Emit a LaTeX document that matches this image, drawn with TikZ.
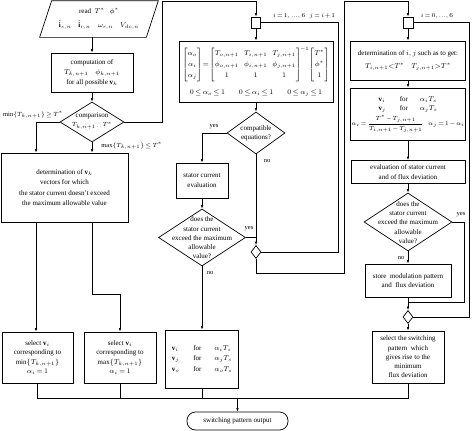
\documentclass[tikz,border=0pt]{standalone}
\usepackage{amsmath,amssymb}
\usepackage{fontspec}
\setmainfont{Liberation Serif}
\usetikzlibrary{arrows.meta,shapes.geometric}
\begin{document}
\begin{tikzpicture}[x=1pt,y=-1pt,line width=0.7pt,
  every node/.style={font=\fontsize{7}{9.2}\selectfont, inner sep=0pt, align=center},
  box/.style={draw, rectangle},
  dia/.style={draw, diamond},
  arr/.style={-{Latex[length=3.5pt,width=2.6pt]}},
  lbl/.style={font=\fontsize{6.5}{8}\selectfont},
  slbl/.style={font=\fontsize{6}{7}\selectfont}]
\thickmuskip=3mu\relax
\medmuskip=2mu\relax
\useasboundingbox (0,0) rectangle (474,431);

% ---------- left column ----------
\node (read) at (99,19) [minimum width=106, minimum height=36] {read\ \ $T^*$\ \ \ $\phi^*$\\[5pt] $\hat{\mathbf{i}}_{s,n}$\quad $\hat{\mathbf{i}}_{r,n}$\quad $\omega_{r,n}$\quad $V_{dc,n}$};
\draw ([xshift=-6]read.south west) -- ([xshift=-6]read.south east) -- ([xshift=6]read.north east) -- ([xshift=6]read.north west) -- cycle;

\node[box, minimum width=82, minimum height=39] (comp) at (92,72.5) {computation of\\[1pt] $T_{k,n+1}$\quad $\phi_{k,n+1}$\\[1pt] for all possible $\mathbf{v}_k$};
\node[dia, minimum width=64, minimum height=40] (cmpd) at (92,122) {};
\node (cmpdt) at (92,121) {comparison\\ {\fontsize{6.5}{8}\selectfont$T_{k,n+1}\mkern2mu{\therefore}\mkern2mu T^*$}};
\node[box, minimum width=127, minimum height=69] (detv) at (64.5,187.5) {determination of $\mathbf{v}_k$\\[1pt] vectors for which\\[1pt] the stator current doesn't exceed\\[1pt] the maximum allowable value};
\node[box, minimum width=71, minimum height=51] (sel1) at (37.5,357.5) {select $\mathbf{v}_i$\\ corresponding to\\ $\min\{T_{k,n+1}\}$\\ $\alpha_i=1$};
\node[box, minimum width=72, minimum height=51] (sel2) at (120,357.5) {select $\mathbf{v}_i$\\ corresponding to\\ $\max\{T_{k,n+1}\}$\\ $\alpha_i=1$};

\coordinate (xL) at (36,0);
\coordinate (jog) at (120,294);
\coordinate (topA) at (162,1);
\draw[arr] (read.south -| comp.north) -- (comp.north);
\draw[arr] (comp.south) -- (cmpd.north);
\draw[arr] (cmpd.west) -| (xL |- detv.north);
\node[lbl, anchor=south] (minlbl) at (33,119) {$\min\{T_{k,n+1}\}\ge T^*$};
\draw[arr] (cmpd.south) -- (cmpd.south |- detv.north);
\node[lbl, anchor=west] (maxlbl) at (101,146) {$\max\{T_{k,n+1}\}\le T^*$};
\draw[arr] (xL |- detv.south) -- (xL |- sel1.north);
\draw[arr] (cmpd.south |- detv.south) |- (jog) -- (sel2.north);

% ---------- middle column ----------
\node[box, minimum width=9, minimum height=11] (sq1) at (256,22.5) {};
\node[box, minimum width=154, minimum height=61] (mat) at (256,71.5) {\renewcommand{\arraystretch}{1.2}\setlength{\arraycolsep}{2.6pt}$\begin{bmatrix}\alpha_o\\ \alpha_i\\ \alpha_j\end{bmatrix}\mkern-2mu=\mkern-2mu\begin{bmatrix}T_{o,n+1} & T_{i,n+1} & T_{j,n+1}\\ \phi_{o,n+1} & \phi_{i,n+1} & \phi_{j,n+1}\\ 1 & 1 & 1\end{bmatrix}^{\mkern-3mu-1}\mkern-4mu\begin{bmatrix}T^*\\ \phi^*\\ 1\end{bmatrix}$\\[7pt] $0\le\alpha_o\le 1$\qquad $0\le\alpha_i\le 1$\qquad $0\le\alpha_j\le 1$};
\node[dia, minimum width=58, minimum height=42] (compat) at (256,133) {};
\node (compatt) at (256,133) {compatible\\ equations?};
\node[box, minimum width=52, minimum height=35] (stat) at (202,180.5) {stator current\\ evaluation};
\node[dia, minimum width=87, minimum height=57] (exc1) at (202,237.5) {};
\node (exc1t) at (202,238) {does the\\ stator current\\ exceed the maximum\\ allowable\\ value?};
\node[dia, minimum width=10, minimum height=13] (mrg1) at (256,252) {};
\node[box, minimum width=73, minimum height=58] (vbox) at (202,359) {\begin{tabular}{@{}l@{\hspace{14pt}}l@{\hspace{13pt}}l@{}}$\mathbf{v}_i$ & for & $\alpha_iT_s$\\[1pt] $\mathbf{v}_j$ & for & $\alpha_jT_s$\\[1pt] $\mathbf{v}_o$ & for & $\alpha_oT_s$\end{tabular}};

\draw[arr] (cmpd.east) -| (topA) -| (sq1.north);

\node[slbl, anchor=south] (loop1) at (304,19) {$i=1,...,6\ \ \ j=i+1$};
\coordinate (xM) at (338,0);
\coordinate (xM2) at (344,1);
\coordinate (yB) at (0,273);
\draw[arr] (sq1.south) -- (mat.north);
\draw[arr] (mat.south) -- (compat.north);
\draw[arr] (compat.west) -| (stat.north);
\node[lbl] (yes1) at (214,127) {yes};
\draw[arr] (stat.south) -- (exc1.north);
\draw[arr] (compat.south) -- (mrg1.north);
\node[lbl] (no1) at (267,161) {no};
\draw (exc1.east) -- (exc1.east -| mrg1.north);
\node[lbl] (yes2) at (249,229) {yes};
\draw[arr] (exc1.south) -- (vbox.north);
\node[lbl] (no2) at (210,273) {no};
\draw (sq1.east) -| (xM |- mrg1.east) -- (mrg1.east);

% ---------- right column ----------
\node[box, minimum width=10, minimum height=11] (sq2) at (408,22.5) {};
\node[box, minimum width=115, minimum height=39] (detij) at (408,60.5) {determination of $i,j$ such as to get:\\[4pt] $T_{i,n+1}{<}T^*$\quad $T_{j,n+1}{>}T^*$};
\node[box, minimum width=115, minimum height=52] (vbox2) at (408,114) {\begin{tabular}{@{}l@{\hspace{14pt}}l@{\hspace{12pt}}l@{}}$\mathbf{v}_i$ & for & $\alpha_iT_s$\\ $\mathbf{v}_j$ & for & $\alpha_jT_s$\end{tabular}\\[1pt] {\fontsize{6.5}{8}\selectfont$\alpha_i=\dfrac{T^*-T_{j,n+1}}{T_{i,n+1}-T_{j,n+1}}$\ \ \ $\alpha_j=1-\alpha_i$}};
\node[box, minimum width=114, minimum height=23] (eval) at (408,172) {evaluation of stator current\\ and of flux deviation};
\node[dia, minimum width=88, minimum height=58] (exc2) at (408,222) {};
\node (exc2t) at (408,222.5) {does the\\ stator current\\ exceed the maximum\\ allowable\\ value?};
\node[box, minimum width=86, minimum height=33] (store) at (408,280.5) {store\ \ modulation pattern\\ and\ \ flux deviation};
\node[dia, minimum width=10, minimum height=13] (mrg2) at (408,317) {};
\node[box, minimum width=72, minimum height=52] (selp) at (408,357) {select the switching\\ pattern\ \ which\\ gives rise to the\\ minimum\\ flux deviation};

\draw[arr] (mrg1.south) |- (xM2 |- yB) -- (xM2) -| (sq2.north);
\node[slbl, anchor=south] (loop2) at (437,19) {$i=0,...,6$};
\coordinate (xR) at (469,0);
\coordinate (xY) at (464,302);
\draw[arr] (sq2.south) -- (detij.north);
\draw[arr] (detij.south) -- (vbox2.north);
\draw[arr] (vbox2.south) -- (eval.north);
\draw[arr] (eval.south) -- (exc2.north);
\draw[arr] (exc2.south) -- (store.north);
\node[lbl] (no3) at (401,258) {no};
\draw[arr] (store.south) -- (mrg2.north);
\draw (exc2.east) -| (xY) -- (xY -| store.south);
\node[lbl] (yes3) at (461,215) {yes};
\draw[arr] (mrg2.south) -- (selp.north);
\draw (sq2.east) -| (xR |- mrg2.east) -- (mrg2.east);

% ---------- output ----------
\coordinate (bus) at (0,398);
\node[draw, rounded corners=8.5pt, minimum width=101, minimum height=18] (out) at (237.5,421) {switching pattern output};
\draw (sel1.south) |- (selp.south |- bus) -- (selp.south);
\draw (sel2.south) -- (sel2.south |- bus);
\draw (vbox.south) -- (vbox.south |- bus);
\draw[arr] (out.north |- bus) -- (out.north);
\end{tikzpicture}
\end{document}
